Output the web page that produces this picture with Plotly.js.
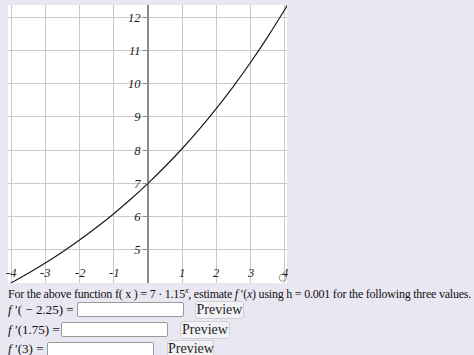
<!DOCTYPE html>
<html>
<head>
<meta charset="utf-8">
<script src="https://cdn.plot.ly/plotly-3.0.1.min.js"></script>
<style>
  html, body { margin: 0; padding: 0; background: #e9e7f1; }
  #page { position: relative; width: 474px; height: 355px; overflow: hidden; background: #e9e7f1; }
  #graph { position: absolute; left: 0; top: 0; width: 474px; height: 355px; }
  .txt { position: absolute; font-family: "Liberation Serif", "DejaVu Serif", serif; color: #111; white-space: nowrap; }
  .box { position: absolute; background: #fff; border: 1px solid #9a9a9a; border-radius: 2px; box-sizing: border-box; }
  .btn { position: absolute; background: #f2f2f4; border: 1px solid #cfcfd6; border-radius: 3px; box-sizing: border-box;
         font-family: "Liberation Serif", "DejaVu Serif", serif; font-size: 14px; color: #222; text-align: center; }
</style>
</head>
<body>
<div id="page">
  <div id="graph"></div>

  <div class="txt" style="left:8px; top:286px; font-size:12px; letter-spacing:-0.22px;">For the above function f( x ) = 7 · 1.15<sup style="font-size:8px;"><i>x</i></sup>, estimate <i>f</i> ′(<i>x</i>) using h = 0.001 for the following three values.</div>

  <div class="txt" style="left:8px; top:302px; font-size:13px;"><i>f</i> ′( − 2.25) =</div>
  <div class="box" style="left:77px; top:302px; width:107px; height:15px;"></div>
  <div class="btn" style="left:195px; top:301px; width:49px; height:18px; line-height:16px;">Preview</div>

  <div class="txt" style="left:8px; top:322px; font-size:13px;"><i>f</i> ′(1.75) =</div>
  <div class="box" style="left:61px; top:322px; width:107px; height:15px;"></div>
  <div class="btn" style="left:180px; top:321px; width:50px; height:18px; line-height:16px;">Preview</div>

  <div class="txt" style="left:8px; top:341px; font-size:13px;"><i>f</i> ′(3) =</div>
  <div class="box" style="left:47px; top:342px; width:107px; height:15px;"></div>
  <div class="btn" style="left:167px; top:340px; width:47px; height:18px; line-height:16px;">Preview</div>
</div>

<script>
// Sampled values of f(x) = 7 · 1.15^x across the plotted window
const xValues = [-4.1, -4, -3.5, -3, -2.5, -2, -1.5, -1, -0.5, 0, 0.5, 1, 1.5, 2, 2.5, 3, 3.5, 4, 4.1];
const fValues = [3.947, 4.002, 4.292, 4.603, 4.936, 5.293, 5.676, 6.087, 6.528, 7.000, 7.507, 8.050, 8.633, 9.258, 9.928, 10.646, 11.417, 12.243, 12.415];

// Tick positions and labels
const xTicks = [-4, -3, -2, -1, 1, 2, 3, 4];
const xTickLabels = ["-4", "-3", "-2", "-1", "1", "2", "3", "4"];
const yTicks = [5, 6, 7, 8, 9, 10, 11, 12];
const yTickLabels = ["5", "6", "7", "8", "9", "10", "11", "12"];

const xRange = [-4.09, 4.06];
const yRange = [4, 12.37];

const tickFont = { family: "Liberation Serif, DejaVu Serif, serif", size: 12.5, color: "#222", style: "italic" };

const trace = {
  x: xValues,
  y: fValues,
  type: "scatter",
  mode: "lines",
  line: { color: "#1a1a1a", width: 1.2, shape: "spline", smoothing: 0.6 },
  hoverinfo: "skip"
};

// y-axis sits at x = 0, expressed as a fraction of the x domain
const yAxisPos = (0 - xRange[0]) / (xRange[1] - xRange[0]);

// x tick labels sit just inside the bottom edge of the graph
const xLabelAnnotations = xTicks.map((v, i) => ({
  x: v, y: yRange[0], xref: "x", yref: "y",
  text: xTickLabels[i], showarrow: false,
  xanchor: "center", yanchor: "bottom", yshift: 1,
  font: tickFont
}));

const layout = {
  width: 474,
  height: 355,
  margin: { l: 8, r: 187, t: 5, b: 72, pad: 0 },
  paper_bgcolor: "#e9e7f1",
  plot_bgcolor: "#ffffff",
  showlegend: false,
  xaxis: {
    range: xRange,
    tickvals: xTicks,
    showticklabels: false,
    ticks: "",
    showgrid: true,
    gridcolor: "#c9c9c9",
    gridwidth: 1,
    zeroline: true,
    zerolinecolor: "#8c8c8c",
    zerolinewidth: 2,
    showline: false,
    fixedrange: true
  },
  yaxis: {
    range: yRange,
    tickvals: yTicks,
    ticktext: yTickLabels,
    anchor: "free",
    position: yAxisPos,
    side: "left",
    ticks: "outside",
    ticklen: 5,
    tickcolor: "#8c8c8c",
    tickwidth: 1,
    tickfont: tickFont,
    showgrid: true,
    gridcolor: "#c9c9c9",
    gridwidth: 1,
    zeroline: false,
    showline: false,
    fixedrange: true
  },
  annotations: xLabelAnnotations,
  shapes: [
    // small round handle at the lower-right corner of the graph
    { type: "circle", xref: "paper", yref: "paper", x0: 0.972, x1: 0.998, y0: 0.006, y1: 0.032,
      line: { color: "#9a9a9a", width: 1 }, fillcolor: "rgba(0,0,0,0)" }
  ]
};

Plotly.newPlot("graph", [trace], layout, { displayModeBar: false, staticPlot: true });
</script>
</body>
</html>
